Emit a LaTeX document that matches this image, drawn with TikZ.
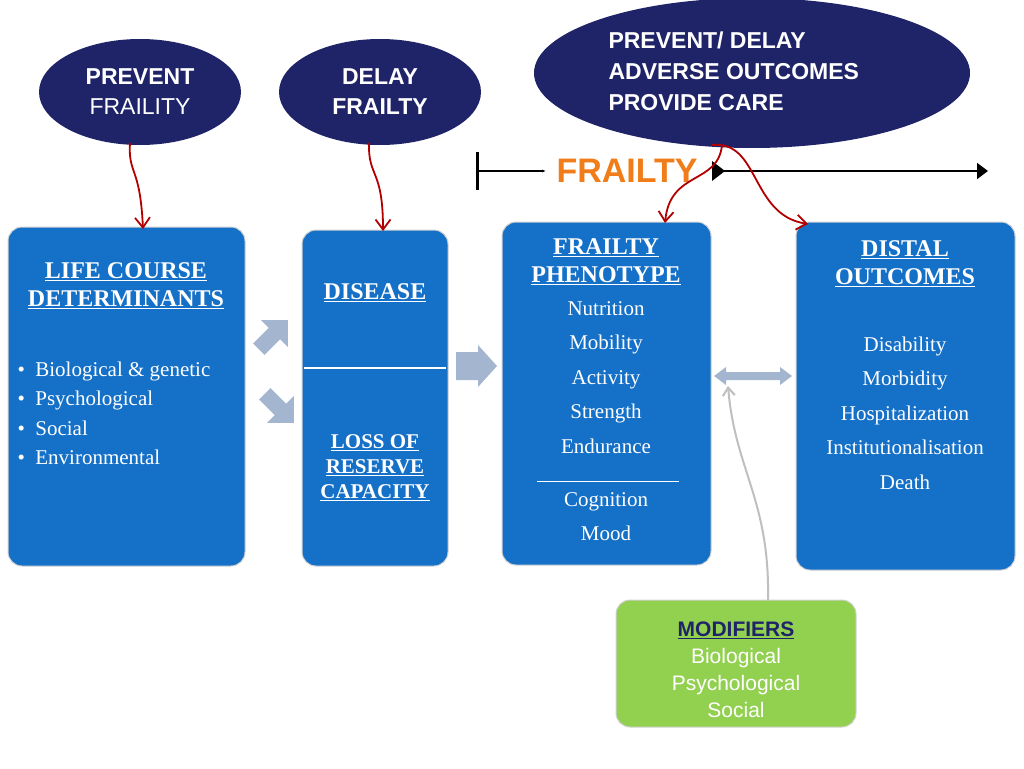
\documentclass[tikz,border=0pt]{standalone}
\usepackage{fontspec}
\setmainfont{Liberation Serif}
\newfontfamily\sans{Liberation Sans}
\usetikzlibrary{shapes.geometric,arrows.meta}
\begin{document}
\begin{tikzpicture}[x=1pt,y=-1pt,
 ell/.style={ellipse,fill=ellblue,inner sep=0pt,font=\sans\fontsize{23}{30}\selectfont,text=white,align=center},
 box/.style={rounded corners=14pt,fill=boxblue,draw=gray!35,line width=1pt},
 btxt/.style={text=white,align=center,font=\fontsize{21}{34.5}\selectfont},
 htxt/.style={text=white,align=center,font=\bfseries\fontsize{24}{28}\selectfont},
 red/.style={draw=red!70!black,line width=1.8pt,-{Straight Barb[length=10pt,width=15pt,line width=1.8pt]}},
 blk/.style={fill=arrgrey,draw=none}]
\definecolor{ellblue}{HTML}{1F2468}
\definecolor{boxblue}{HTML}{1570C8}
\definecolor{arrgrey}{HTML}{A3B5CF}
\definecolor{mgreen}{HTML}{92D050}
\definecolor{forange}{HTML}{F07D1A}
\useasboundingbox (0,0) rectangle (1024,768);
% ellipses
\node[ell,minimum width=202,minimum height=106] (e1) at (140,92) {\textbf{PREVENT}\\FRAILITY};
\node[ell,minimum width=202,minimum height=106] (e2) at (380,92) {\textbf{DELAY}\\\textbf{FRAILTY}};
\node[ell,minimum width=436,minimum height=150] (e3) at (752,73) {};
\node[text=white,anchor=north west,align=left,font=\sans\bfseries\fontsize{23}{31}\selectfont] (e3t) at (605,28) {PREVENT/ DELAY\\ADVERSE OUTCOMES\\PROVIDE CARE};
% boxes
\draw[box] (8,227) rectangle (245,566);
\draw[box] (302,230) rectangle (448,566);
\draw[white,line width=2.5pt] (304,368) -- (446,368);
\draw[box] (502,222) rectangle (711,565);
\draw[box] (796,222) rectangle (1015,570);
\draw[rounded corners=14pt,fill=mgreen,draw=gray!35,line width=1pt] (616,600) rectangle (856,727);
\coordinate (b1) at (143,229); \coordinate (b2) at (383,231);
\coordinate (b3) at (665,223); \coordinate (b4) at (808,224);
\coordinate (m) at (768,600);
% box texts
\node[htxt] (t1) at (126,286) {\underline{LIFE COURSE}\\\underline{DETERMINANTS}};
\node[text=white,anchor=north west,align=left,font=\fontsize{21}{29.5}\selectfont] (t1b) at (14,358) {\textbullet\ \ Biological \& genetic\\\textbullet\ \ Psychological\\\textbullet\ \ Social\\\textbullet\ \ Environmental};
\node[htxt] (t2) at (375,293) {\underline{DISEASE}};
\node[htxt,font=\bfseries\fontsize{21}{25}\selectfont] (t3) at (375,468) {\underline{LOSS OF}\\\underline{RESERVE}\\\underline{CAPACITY}};
\node[htxt] (t4) at (606,262) {\underline{FRAILTY}\\\underline{PHENOTYPE}};
\node[btxt,anchor=north] (t4b) at (606,298) {Nutrition\\Mobility\\Activity\\Strength\\Endurance};
\draw[white,line width=0.8pt] (537,481) -- (679,481);
\node[btxt,anchor=north] (t4c) at (606,489) {Cognition\\Mood};
\node[htxt] (t5) at (905,264) {\underline{DISTAL}\\\underline{OUTCOMES}};
\node[btxt,anchor=north] (t5b) at (905,333) {Disability\\Morbidity\\Hospitalization\\Institutionalisation\\Death};
\node[align=center,text=white,font=\sans\fontsize{21}{27}\selectfont] (t6) at (736,670) {\textbf{\textcolor{ellblue}{\underline{MODIFIERS}}}\\Biological\\Psychological\\Social};
% frailty timeline
\node[text=forange,font=\sans\bfseries\fontsize{34}{36}\selectfont] (fr) at (627,171) {FRAILTY};
\coordinate (s0) at (477,171); \coordinate (s1) at (546,171);
\coordinate (f0) at (712,171); \coordinate (f1) at (988,171);
\draw[line width=3pt] (477,152) -- (477,190);
\draw[line width=1.5pt,-{Latex[length=4pt]}] (s0) -- (s1);
\draw[line width=1.5pt,-{Triangle[length=11pt,width=16pt]}] (f0) -- (f1);
\fill (712,161) -- (725,171) -- (712,181) -- cycle;
% red arrows
\draw[red] (130,143) .. controls (128,175) and (140,165) .. (b1);
\draw[red] (369,143) .. controls (368,178) and (383,168) .. (b2);
\draw[red] (722,145) .. controls (718,185) and (670,170) .. (b3);
\draw[red] (712,145) .. controls (760,140) and (750,215) .. (b4);
% grey block arrows
\begin{scope}[shift={(273,335)},rotate=45]
\fill[blk] (-20,-8) -- (2,-8) -- (2,-19) -- (21,0) -- (2,19) -- (2,8) -- (-20,8) -- cycle;
\end{scope}
\begin{scope}[shift={(279,408)},rotate=-45]
\fill[blk] (-20,-8) -- (2,-8) -- (2,-19) -- (21,0) -- (2,19) -- (2,8) -- (-20,8) -- cycle;
\end{scope}
\fill[blk] (456,352) -- (478,352) -- (478,345) -- (497,366) -- (478,387) -- (478,380) -- (456,380) -- cycle;
\fill[blk] (714,376) -- (726,367) -- (726,372) -- (780,372) -- (780,367) -- (792,376) -- (780,385) -- (780,380) -- (726,380) -- (726,385) -- cycle;
\draw[gray!50,line width=2pt,-{Straight Barb[length=8pt,width=12pt,line width=2pt]}] (m) .. controls (770,500) and (735,470) .. (728,386);
\end{tikzpicture}
\end{document}
